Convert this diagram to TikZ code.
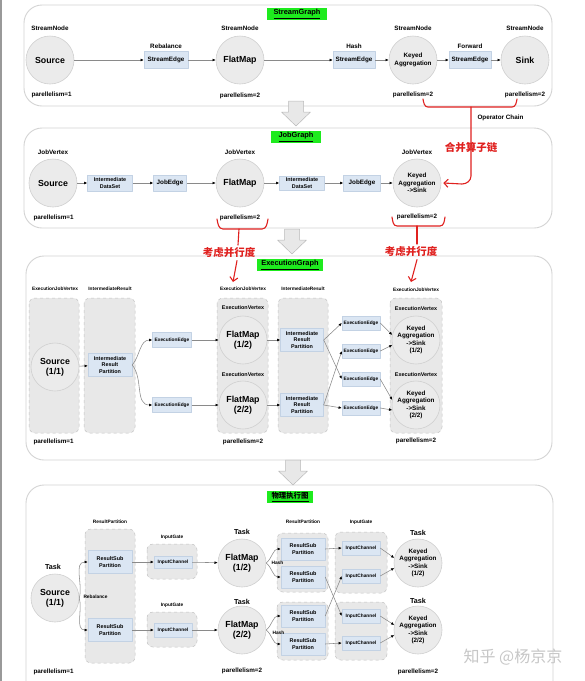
\documentclass[tikz,border=0pt]{standalone}
\usepackage{fontspec}
\setmainfont{Liberation Sans}
\newfontfamily\cjkfont{Noto Sans CJK SC}
\usetikzlibrary{arrows.meta}
\definecolor{framegray}{HTML}{D4D4D4}
\definecolor{vertexfill}{HTML}{EBEBEB}
\definecolor{vertexline}{HTML}{D0D0D0}
\definecolor{edgefill}{HTML}{DBE6F3}
\definecolor{edgeline}{HTML}{C3D2E4}
\definecolor{groupfill}{HTML}{E8E8E8}
\definecolor{groupline}{HTML}{C2C2C2}
\definecolor{taggreen}{HTML}{1EEB1E}
\definecolor{notered}{HTML}{E0211F}
\definecolor{flowgray}{HTML}{8A8A8A}

\begin{document}
\begin{tikzpicture}[
  x=1pt,
  y=-1pt,
  line join=round,
  bigfont/.style={font=\bfseries\fontsize{8.8}{10.2}\selectfont},
  midfont/.style={font=\bfseries\fontsize{6.3}{7.4}\selectfont},
  smallfont/.style={font=\bfseries\fontsize{5.4}{6.2}\selectfont},
  tinyfont/.style={font=\bfseries\fontsize{4.8}{5.8}\selectfont},
  frame/.style={draw=framegray,line width=0.9pt,rounded corners=18pt},
  graphtag/.style={fill=taggreen,minimum height=12pt,inner sep=0pt,font=\bfseries\fontsize{7.4}{8}\selectfont},
  vertex/.style={circle,fill=vertexfill,draw=vertexline,line width=0.6pt,minimum size=48pt,inner sep=0pt,align=center,midfont},
  edgebox/.style={fill=edgefill,draw=edgeline,line width=0.4pt,inner sep=0pt,align=center},
  group/.style={fill=groupfill,draw=groupline,dashed,line width=0.5pt,rounded corners=6pt},
  flow/.style={draw=flowgray,line width=0.55pt,-{Latex[length=3.2pt,width=2.8pt,color=black]}},
  redmark/.style={draw=notered,line width=1.1pt,line cap=round},
  redtip/.style={redmark,-{Straight Barb[length=4pt,width=8pt]}},
  redtext/.style={text=notered,font=\cjkfont\bfseries\fontsize{10.5}{12}\selectfont},
  stage/.style={fill=black!9,draw=black!27,line width=0.5pt}
]
  \newcommand{\stagearrow}[1]{%
    \path[stage] ([xshift=-7.5pt]#1) -- ++(15,0) -- ++(0,11) -- ++(7,0)
      -- ++(-14.5,14) -- ++(-14.5,-14) -- ++(7,0) -- cycle;
  }

  \useasboundingbox (0,0) rectangle (585,681);
  \clip (0,0) rectangle (585,681);
  \fill[white] (0,0) rectangle (585,681);
  \fill[black!40] (0,0) rectangle (1.6,681);

  % StreamGraph: operators joined by stream edges.
  \draw[frame] (24,5) rectangle (552,106);
  \node[graphtag,minimum width=60pt] (tagStream) at (297,14) {\underline{StreamGraph}};
  \node[vertex,bigfont] (sSrc) at (50,60) {Source};
  \node[edgebox,midfont,minimum width=44pt,minimum height=17pt] (sEdgeA) at (166,60) {StreamEdge};
  \node[vertex,bigfont] (sFlat) at (240,60) {FlatMap};
  \node[edgebox,midfont,minimum width=42pt,minimum height=17pt] (sEdgeB) at (354,60) {StreamEdge};
  \node[vertex] (sKey) at (413,60) {Keyed\\Aggregation};
  \node[edgebox,midfont,minimum width=42pt,minimum height=17pt] (sEdgeC) at (470,60) {StreamEdge};
  \node[vertex,bigfont] (sSink) at (525,60) {Sink};
  \foreach \n/\x in {sSrc/50,sFlat/240,sKey/413,sSink/525}
    \node[midfont] (\n-kind) at (\x,28) {StreamNode};
  \node[midfont] (sEdgeA-kind) at (166,46) {Rebalance};
  \node[midfont] (sEdgeB-kind) at (354,46) {Hash};
  \node[midfont] (sEdgeC-kind) at (470,46) {Forward};
  \node[midfont,anchor=west] (sSrc-par) at (28,95) {parellelism=1};
  \node[midfont] (sFlat-par) at (240,96) {parellelism=2};
  \node[midfont] (sKey-par) at (413,95) {parellelism=2};
  \node[midfont] (sSink-par) at (525,95) {parellelism=2};
  \foreach \a/\b in {sSrc/sEdgeA,sEdgeA/sFlat,sFlat/sEdgeB,sEdgeB/sKey,sKey/sEdgeC,sEdgeC/sSink}
    \draw[flow] (\a) -- (\b);

  % JobGraph: chained vertices with data sets in between.
  \draw[frame] (24,128) rectangle (552,228);
  \node[graphtag,minimum width=50pt] (tagJob) at (296,137) {\underline{JobGraph}};
  \node[vertex,bigfont] (jSrc) at (53,183) {Source};
  \node[edgebox,smallfont,minimum width=45pt,minimum height=16pt] (jSetA) at (110,183) {Intermediate\\DataSet};
  \node[edgebox,midfont,minimum width=33pt,minimum height=16pt] (jEdgeA) at (170,183) {JobEdge};
  \node[vertex,bigfont] (jFlat) at (240,183) {FlatMap};
  \node[edgebox,smallfont,minimum width=45pt,minimum height=14pt] (jSetB) at (302,183) {Intermediate\\DataSet};
  \node[edgebox,midfont,minimum width=37pt,minimum height=16pt] (jEdgeB) at (362,183) {JobEdge};
  \node[vertex] (jKey) at (417,183) {Keyed\\Aggregation\\->Sink};
  \foreach \n/\x in {jSrc/53,jFlat/240,jKey/417}
    \node[midfont] (\n-kind) at (\x,152) {JobVertex};
  \node[midfont,anchor=west] (jSrc-par) at (30,218) {parellelism=1};
  \node[midfont] (jFlat-par) at (240,218) {parellelism=2};
  \node[midfont] (jKey-par) at (417,217) {parellelism=2};
  \foreach \a/\b in {jSrc/jSetA,jSetA/jEdgeA,jEdgeA/jFlat,jFlat/jSetB,jSetB/jEdgeB,jEdgeB/jKey}
    \draw[flow] (\a) -- (\b);

  % ExecutionGraph: each job vertex split into parallel execution vertices.
  \draw[frame] (26,256) rectangle (552,460);
  \node[graphtag,minimum width=66pt] (tagExec) at (290,265) {\underline{ExecutionGraph}};
  \path[group] (29,298) rectangle (79,433);
  \path[group] (84,298) rectangle (135,433);
  \path[group] (217,298) rectangle (268,433);
  \path[group] (278,298) rectangle (328,433);
  \path[group] (390,298) rectangle (442,433);
  \node[tinyfont] (eColA) at (55,289) {ExecutionJobVertex};
  \node[tinyfont] (eColB) at (110,289) {IntermediateResult};
  \node[tinyfont] (eColC) at (243,289) {ExecutionJobVertex};
  \node[tinyfont] (eColD) at (303,289) {IntermediateResult};
  \node[tinyfont] (eColE) at (416,290) {ExecutionJobVertex};
  \node[vertex,bigfont] (eSrc) at (55,367) {Source\\(1/1)};
  \node[edgebox,smallfont,minimum width=44pt,minimum height=23pt] (eIrp) at (110,365) {Intermediate\\Result\\Partition};
  \node[edgebox,tinyfont,minimum width=39pt,minimum height=15pt] (eEdgeA) at (172,340) {ExecutionEdge};
  \node[edgebox,tinyfont,minimum width=39pt,minimum height=15pt] (eEdgeB) at (172,405) {ExecutionEdge};
  \node[vertex,bigfont] (eFlatA) at (243,340) {FlatMap\\(1/2)};
  \node[vertex,bigfont] (eFlatB) at (243,405) {FlatMap\\(2/2)};
  \node[edgebox,smallfont,minimum width=43pt,minimum height=23pt] (eIrpA) at (302,340) {Intermediate\\Result\\Partition};
  \node[edgebox,smallfont,minimum width=43pt,minimum height=23pt] (eIrpB) at (302,405) {Intermediate\\Result\\Partition};
  \foreach \i/\y in {1/323,2/351,3/379,4/408}
    \node[edgebox,tinyfont,minimum width=38pt,minimum height=14pt] (eOut\i) at (361,\y) {ExecutionEdge};
  \node[vertex] (eKeyA) at (416,340) {Keyed\\Aggregation\\->Sink\\(1/2)};
  \node[vertex] (eKeyB) at (416,405) {Keyed\\Aggregation\\->Sink\\(2/2)};
  \node[smallfont] (eFlatA-kind) at (243,308) {ExecutionVertex};
  \node[smallfont] (eFlatB-kind) at (243,375) {ExecutionVertex};
  \node[smallfont] (eKeyA-kind) at (416,309) {ExecutionVertex};
  \node[smallfont] (eKeyB-kind) at (416,375) {ExecutionVertex};
  \node[midfont,anchor=west] (eSrc-par) at (30,442) {parellelism=1};
  \node[midfont] (eFlat-par) at (243,442) {parellelism=2};
  \node[midfont] (eKey-par) at (416,441) {parellelism=2};
  \draw[flow] (eSrc) -- (eIrp);
  \draw[flow] (eIrp.east) to[out=50,in=180] (eEdgeA.west);
  \draw[flow] (eIrp.east) to[out=-50,in=180] (eEdgeB.west);
  \foreach \a/\b in {eEdgeA/eFlatA,eEdgeB/eFlatB,eFlatA/eIrpA,eFlatB/eIrpB}
    \draw[flow] (\a) -- (\b);
  \foreach \a/\b in {eIrpA/eOut1,eIrpA/eOut3,eIrpB/eOut2,eIrpB/eOut4}
    \draw[flow] (\a.east) -- (\b.west);
  \draw[flow] (eOut1.east) -- (eKeyA.168);
  \draw[flow] (eOut2.east) -- (eKeyA.192);
  \draw[flow] (eOut3.east) -- (eKeyB.168);
  \draw[flow] (eOut4.east) -- (eKeyB.192);

  % Physical plan: tasks, result partitions and input gates.
  \draw[frame] (26,485) rectangle (553,700);
  \node[graphtag,minimum width=46pt,font=\cjkfont\bfseries\fontsize{7.4}{8}\selectfont] (tagTask) at (290,497) {\underline{物理执行图}};
  \path[group] (85,529) rectangle (135,663);
  \path[group] (147,544) rectangle (197,579);
  \path[group] (147,612) rectangle (197,647);
  \path[group] (277,533) rectangle (328,592);
  \path[group] (277,602) rectangle (328,660);
  \path[group] (335,532) rectangle (387,593);
  \path[group] (335,602) rectangle (387,660);
  \node[tinyfont] (pColA) at (110,522) {ResultPartition};
  \node[tinyfont] (pGateA-kind) at (172,537) {InputGate};
  \node[tinyfont] (pGateB-kind) at (172,605) {InputGate};
  \node[tinyfont] (pColB) at (303,522) {ResultPartition};
  \node[tinyfont] (pColC) at (361,522) {InputGate};
  \node[vertex,bigfont] (pSrc) at (55,598) {Source\\(1/1)};
  \node[edgebox,smallfont,minimum width=44pt,minimum height=23pt] (pSubA) at (110,562) {ResultSub\\Partition};
  \node[edgebox,smallfont,minimum width=44pt,minimum height=23pt] (pSubB) at (110,630) {ResultSub\\Partition};
  \node[edgebox,tinyfont,minimum width=38pt,minimum height=12pt] (pChanA) at (173,562) {InputChannel};
  \node[edgebox,tinyfont,minimum width=38pt,minimum height=14pt] (pChanB) at (173,630) {InputChannel};
  \node[vertex,bigfont] (pFlatA) at (242,563) {FlatMap\\(1/2)};
  \node[vertex,bigfont] (pFlatB) at (242,630) {FlatMap\\(2/2)};
  \foreach \i/\y in {1/549,2/577,3/616,4/644}
    \node[edgebox,smallfont,minimum width=44pt,minimum height=22pt] (pSub\i) at (303,\y) {ResultSub\\Partition};
  \foreach \i/\y in {1/548,2/576,3/616,4/643}
    \node[edgebox,tinyfont,minimum width=38pt,minimum height=14pt] (pChan\i) at (361,\y) {InputChannel};
  \node[vertex] (pKeyA) at (418,563) {Keyed\\Aggregation\\->Sink\\(1/2)};
  \node[vertex] (pKeyB) at (418,630) {Keyed\\Aggregation\\->Sink\\(2/2)};
  \foreach \n/\x/\y in {pSrc/53/567,pFlatA/242/532,pFlatB/242/602,pKeyA/418/533,pKeyB/418/601}
    \node[font=\bfseries\fontsize{7.2}{8}\selectfont] (\n-kind) at (\x,\y) {Task};
  \node[tinyfont,anchor=west] (pSrc-part) at (80,597) {Rebalance};
  \node[tinyfont,anchor=west] (pFlatA-part) at (268,563) {Hash};
  \node[tinyfont,anchor=west] (pFlatB-part) at (269,633) {Hash};
  \node[midfont,anchor=west] (pSrc-par) at (30,672) {parellelism=1};
  \node[midfont] (pFlat-par) at (242,671) {parellelism=2};
  \node[midfont] (pKey-par) at (418,672) {parellelism=2};
  \draw[flow] (pSrc.east) to[out=75,in=180] (pSubA.west);
  \draw[flow] (pSrc.east) to[out=-75,in=180] (pSubB.west);
  \foreach \a/\b in {pSubA/pChanA,pSubB/pChanB,pChanA/pFlatA,pChanB/pFlatB}
    \draw[flow] (\a) -- (\b);
  \draw[flow] (pFlatA.east) to[out=40,in=180] (pSub1.west);
  \draw[flow] (pFlatA.east) to[out=-40,in=180] (pSub2.west);
  \draw[flow] (pFlatB.east) to[out=40,in=180] (pSub3.west);
  \draw[flow] (pFlatB.east) to[out=-40,in=180] (pSub4.west);
  \foreach \a/\b in {pSub1/pChan1,pSub2/pChan3,pSub3/pChan2,pSub4/pChan4}
    \draw[flow] (\a.east) -- (\b.west);
  \draw[flow] (pChan1.east) -- (pKeyA.168);
  \draw[flow] (pChan2.east) -- (pKeyA.192);
  \draw[flow] (pChan3.east) -- (pKeyB.168);
  \draw[flow] (pChan4.east) -- (pKeyB.192);

  % Grey arrows between the stages.
  \coordinate (gapA) at (296,101);
  \coordinate (gapB) at (292,229);
  \coordinate (gapC) at (293,460);
  \stagearrow{gapA}
  \stagearrow{gapB}
  \stagearrow{gapC}

  % Hand-drawn red notes.
  \node[midfont,anchor=west] (chainLabel) at (474,118) {Operator Chain};
  \node[redtext] (chainNote) at (471,148) {合并算子链};
  \node[redtext] (parNoteA) at (229,253) {考虑并行度};
  \node[redtext] (parNoteB) at (411,252) {考虑并行度};
  \coordinate (parTipA) at (233,282);
  \coordinate (parTipB) at (411,282);
  \draw[redmark] (423,99) to[out=-80,in=180] (428,107) -- (512,107) to[out=0,in=-100] (517,99);
  \draw[redtip] (471,107) -- (471,176) to[out=-90,in=0] (462,184) -- ([xshift=2pt]jKey.east);
  \draw[redmark] (217,219) to[out=-80,in=180] (223,229) -- (262,229) to[out=0,in=-100] (268,219);
  \draw[redmark] (239,229) -- (238,245);
  \draw[redtip] ([xshift=8pt,yshift=1pt]parNoteA.south) -- (parTipA);
  \draw[redmark] (392,217) to[out=-80,in=180] (397,226) -- (440,226) to[out=0,in=-100] (445,217);
  \draw[redmark] (417,226) -- (417,244);
  \draw[redtip] ([xshift=6pt,yshift=1pt]parNoteB.south) -- (parTipB);

  % Site watermark.
  \node[text=black!22,font=\cjkfont\fontsize{16}{18}\selectfont] (siteMark) at (513,657) {知乎 @杨京京};
\end{tikzpicture}
\end{document}
